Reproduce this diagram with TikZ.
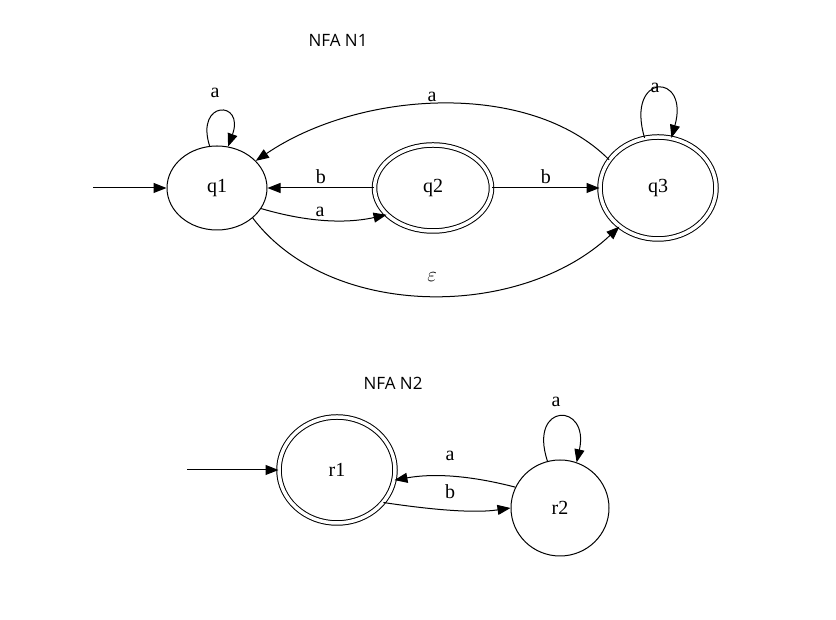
\documentclass[tikz,border=0pt]{standalone}
\usepackage{fontspec}
\setmainfont{Liberation Serif}
\newfontfamily\titlefont{Open Sans}
\usetikzlibrary{arrows.meta,shapes.geometric}
\begin{document}
\begin{tikzpicture}[x=1pt,y=1pt,
  st/.style={ellipse,draw,line width=1pt,inner sep=0pt,font=\fontsize{20}{20}\selectfont},
  acc/.style={st,double,double distance=3.5pt},
  e/.style={-{Triangle[length=13pt,width=10pt]},line width=1pt},
  lab/.style={font=\fontsize{20}{20}\selectfont,inner sep=0pt},
  ttl/.style={font=\titlefont\fontsize{17}{17}\selectfont}]
\useasboundingbox (0,0) rectangle (836,620);
\node[ttl] (t1) at (338,580) {NFA N1};
\node[ttl] (t2) at (393,237) {NFA N2};
\node[st,minimum width=100pt,minimum height=84pt] (q1) at (217,432) {q1};
\node[acc,minimum width=117pt,minimum height=86pt] (q2) at (433,432) {q2};
\node[acc,minimum width=116pt,minimum height=102pt] (q3) at (658,432) {q3};
\node[acc,minimum width=116pt,minimum height=106pt] (r1) at (337,150) {r1};
\node[st,minimum width=98pt,minimum height=96pt] (r2) at (560,112) {r2};
\coordinate (s1) at (93,432);
\coordinate (s2) at (187,150);
\draw[e] (s1) -- (q1);
\draw[e] (s2) -- (r1);
% N1
\draw[e] (q1.100) .. controls (195,520) and (245,520) .. (q1.75);
\node[lab] (l1) at (215,527) {a};
\draw[e] (q2.west) -- (q1.east |- q2.west) node[lab,midway,above=4pt] {b};
\draw[e] (q1.-25) .. controls (300,400) and (340,395) .. (q2.-150);
\node[lab] (l2) at (320,408) {a};
\draw[e] (q2.east) -- (q3.west) node[lab,midway,above=4pt] {b};
\draw[e] (q3.150) .. controls (530,540) and (360,530) .. (q1.35);
\node[lab] (l3) at (432,523) {a};
\draw[e] (q1.-40) .. controls (330,300) and (520,300) .. (q3.-135);
\node[lab] (l4) at (432,343) {$\varepsilon$};
\draw[e] (q3.105) .. controls (625,548) and (690,548) .. (q3.75);
\node[lab] (l5) at (655,532) {a};
% N2
\draw[e] (r2.155) .. controls (480,142) and (440,148) .. (r1.-10);
\node[lab] (l6) at (450,164) {a};
\draw[e] (r1.-35) .. controls (420,112) and (470,106) .. (r2.180);
\node[lab] (l7) at (450,128) {b};
\draw[e] (r2.105) .. controls (528,218) and (590,218) .. (r2.70);
\node[lab] (l8) at (556,218) {a};
\end{tikzpicture}
\end{document}
